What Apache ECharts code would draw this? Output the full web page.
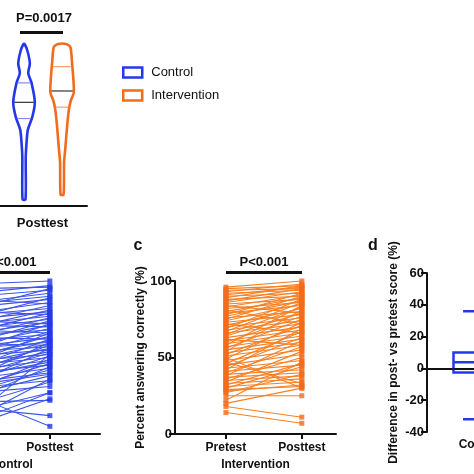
<!DOCTYPE html>
<html>
<head>
<meta charset="utf-8">
<script src="https://cdn.jsdelivr.net/npm/echarts@6.0.0/dist/echarts.min.js"></script>
<style>
  html, body { margin: 0; padding: 0; background: #fff; }
  #chart { width: 474px; height: 474px; }
</style>
</head>
<body>
<div id="chart"></div>
<script>
// groups and colours
const groups = ['Control', 'Intervention']
const testLabels = ['Pretest', 'Posttest']
const BLUE = '#2438e8'
const ORANGE = '#f26c1c'
const FONT = 'Liberation Sans, Arial, sans-serif'

// violin (posttest score, %) : value levels and kernel density at each level
const violinX = [1.17, 2.88]
const controlViolinValues = [100, 96, 88, 82, 76, 64, 55, 47, 39, 30, 4]
const controlViolinDensity = [0.5, 3.3, 5.8, 4.2, 7.5, 10.8, 8.3, 3.8, 2.5, 1.7, 1.5]
const controlQuartiles = [54, 64, 76]
const interventionViolinValues = [100, 98, 88, 78, 70, 65, 59, 49, 36, 27, 7]
const interventionViolinDensity = [4, 8.3, 10, 11.3, 11.7, 8.7, 6.7, 5, 3.3, 2, 1.5]
const interventionQuartiles = [61, 71, 86]

// paired scores, control group
const controlPre = [98, 95, 92, 90, 88, 86, 85, 83, 82, 80, 79, 78, 76, 75, 74, 73, 72, 71, 70, 69,
  68, 67, 66, 65, 64, 63, 62, 61, 60, 59, 58, 57, 56, 55, 54, 53, 52, 51, 50, 49,
  48, 47, 46, 45, 44, 43, 42, 41, 40, 39, 38, 37, 36, 35, 34, 33, 32, 31, 30, 29,
  28, 27, 26, 25, 23, 21, 19, 17, 15, 12, 10, 8, 6]
const controlPost = [100, 96, 97, 94, 85, 92, 90, 88, 95, 78, 86, 82, 89, 80, 72, 84, 77, 70, 81, 75,
  66, 79, 73, 68, 76, 62, 71, 65, 74, 58, 69, 63, 60, 72, 57, 67, 61, 55, 64, 59,
  52, 66, 56, 50, 62, 54, 48, 58, 45, 53, 47, 60, 43, 51, 40, 56, 39, 46, 35, 49,
  42, 31, 38, 5, 44, 22, 34, 12, 27, 52, 36, 27, 23]

// paired scores, intervention group
const interventionPre = [96, 95, 94, 93, 92, 91, 90, 89, 88, 87, 86, 85, 84, 83, 82, 81, 80, 79, 78, 77,
  76, 75, 74, 73, 72, 71, 70, 69, 68, 67, 66, 65, 64, 63, 62, 61, 60, 59, 58, 57,
  56, 55, 54, 53, 52, 51, 50, 49, 48, 47, 46, 45, 44, 43, 42, 41, 40, 39, 38, 37,
  36, 35, 34, 33, 32, 31, 30, 29, 28, 27, 25, 22, 20, 18, 14]
const interventionPost = [100, 97, 95, 98, 94, 96, 92, 97, 90, 95, 93, 88, 79, 91, 86, 72, 89, 84, 92, 87,
  80, 90, 85, 78, 66, 82, 76, 88, 74, 86, 72, 83, 79, 70, 58, 68, 77, 66, 84, 64,
  75, 62, 81, 60, 71, 58, 30, 73, 55, 33, 67, 52, 63, 48, 69, 45, 57, 42, 61, 40,
  50, 38, 54, 36, 46, 34, 44, 31, 32, 39, 25, 47, 30, 11, 7]

// difference post - pre (%), control: min, Q1, median, Q3, max
const diffCategories = ['Control', 'Intervention']
const diffControlBox = [-32, -2.5, 3.8, 10, 36]

const VIOLIN_SCALE = 1

function violinSeries (name, idx, values, density, quartiles, color, quartColor) {
  return {
    type: 'custom',
    name: name,
    xAxisIndex: 0,
    yAxisIndex: 0,
    data: [[violinX[idx]]],
    renderItem: (params, api) => {
      const x = api.value(0)
      const right = values.map((v, i) => {
        const p = api.coord([x, v])
        return [p[0] + density[i] * VIOLIN_SCALE, p[1]]
      })
      const left = values.map((v, i) => {
        const p = api.coord([x, v])
        return [p[0] - density[i] * VIOLIN_SCALE, p[1]]
      }).reverse()
      const widthAt = (q) => {
        for (let i = 0; i < values.length - 1; i++) {
          if (q <= values[i] && q >= values[i + 1]) {
            const t = (values[i] - q) / (values[i] - values[i + 1])
            return density[i] + t * (density[i + 1] - density[i])
          }
        }
        return 0
      }
      const qLines = quartiles.map((q, i) => {
        const p = api.coord([x, q])
        const w = widthAt(q) * VIOLIN_SCALE - 1
        return {
          type: 'line',
          shape: { x1: p[0] - w, y1: p[1], x2: p[0] + w, y2: p[1] },
          style: { stroke: i === 1 ? '#333' : quartColor, lineWidth: 1.2 }
        }
      })
      return {
        type: 'group',
        children: [{
          type: 'polygon',
          shape: { points: right.concat(left), smooth: 0.25 },
          style: { fill: 'none', stroke: color, lineWidth: 2.6 }
        }].concat(qLines)
      }
    }
  }
}

function pairLines (pre, post, xi, yi, color) {
  return {
    type: 'custom',
    xAxisIndex: xi,
    yAxisIndex: yi,
    silent: true,
    data: pre.map((v, i) => [v, post[i]]),
    renderItem: (params, api) => {
      const a = api.coord([1, api.value(0)])
      const b = api.coord([2, api.value(1)])
      return {
        type: 'line',
        shape: { x1: a[0], y1: a[1], x2: b[0], y2: b[1] },
        style: { stroke: color, lineWidth: 1.1 }
      }
    }
  }
}

function pairPoints (pre, post, xi, yi, color) {
  return {
    type: 'scatter',
    xAxisIndex: xi,
    yAxisIndex: yi,
    symbol: 'rect',
    symbolSize: 5,
    silent: true,
    itemStyle: { color: color },
    data: pre.map(v => [1, v]).concat(post.map(v => [2, v]))
  }
}

const axisText = { color: '#111', fontFamily: FONT, fontWeight: 'bold', fontSize: 13 }
const blackLine = { lineStyle: { color: '#111', width: 2 } }

function pairXAxis (gridIndex, max, name) {
  return {
    type: 'value', gridIndex: gridIndex, min: 0.33, max: max,
    axisLine: blackLine,
    axisTick: { show: true, customValues: [1, 2], length: 5, lineStyle: { color: '#111', width: 2 } },
    axisLabel: Object.assign({ customValues: [1, 2], margin: 8, formatter: v => testLabels[Math.round(v) - 1] || '' }, axisText, { fontSize: 12 }),
    splitLine: { show: false },
    name: name, nameLocation: 'middle', nameGap: 25,
    nameTextStyle: Object.assign({}, axisText, { fontSize: 12 })
  }
}

function pairYAxis (gridIndex) {
  return {
    type: 'value', gridIndex: gridIndex, min: 0, max: 100, interval: 50,
    axisLine: { show: true, lineStyle: { color: '#111', width: 2 } },
    axisTick: { show: true, length: 6, lineStyle: { color: '#111', width: 2 } },
    axisLabel: Object.assign({ margin: 3 }, axisText),
    splitLine: { show: false },
    name: 'Percent answering correctly (%)', nameLocation: 'middle', nameGap: 28,
    nameTextStyle: Object.assign({}, axisText, { fontSize: 12 })
  }
}

const chart = echarts.init(document.getElementById('chart'))

const option = {
  animation: false,
  backgroundColor: '#fff',
  textStyle: { fontFamily: FONT },
  grid: [
    { left: -2, top: 44, width: 89, height: 162, outerBoundsMode: 'none', containLabel: false },
    { left: -77, top: 281, width: 177, height: 153, outerBoundsMode: 'none', containLabel: false },
    { left: 175, top: 281, width: 161, height: 153, outerBoundsMode: 'none', containLabel: false },
    { left: 427, top: 273, width: 212, height: 159, outerBoundsMode: 'none', containLabel: false }
  ],
  xAxis: [
    {
      type: 'value', gridIndex: 0, min: 0, max: 4,
      axisLine: blackLine, axisTick: { show: false }, axisLabel: { show: false }, splitLine: { show: false },
      name: 'Posttest', nameLocation: 'middle', nameGap: 11, nameTextStyle: axisText
    },
    pairXAxis(1, 2.66, 'Control'),
    pairXAxis(2, 2.45, 'Intervention'),
    {
      type: 'category', gridIndex: 3, data: diffCategories,
      axisLine: blackLine, axisTick: { show: false },
      axisLabel: Object.assign({ margin: 7 }, axisText, { fontSize: 12 }),
      splitLine: { show: false }
    }
  ],
  yAxis: [
    { type: 'value', gridIndex: 0, min: 0, max: 100, show: false, splitLine: { show: false } },
    pairYAxis(1),
    pairYAxis(2),
    {
      type: 'value', gridIndex: 3, min: -40, max: 60, interval: 20,
      axisLine: { show: true, lineStyle: { color: '#111', width: 2 } },
      axisTick: { show: true, length: 6, lineStyle: { color: '#111', width: 2 } },
      axisLabel: Object.assign({ margin: 3 }, axisText),
      splitLine: { show: false },
      name: 'Difference in post- vs pretest score (%)', nameLocation: 'middle', nameGap: 27,
      nameTextStyle: Object.assign({}, axisText, { fontSize: 12 })
    }
  ],
  legend: {
    orient: 'vertical', left: 117, top: 61,
    itemWidth: 19, itemHeight: 10, itemGap: 10,
    selectedMode: false,
    textStyle: { fontSize: 13, color: '#111', fontFamily: FONT, padding: [0, 0, 0, 4] },
    data: [
      { name: 'Control', icon: 'rect', itemStyle: { color: '#fff', borderColor: BLUE, borderWidth: 2.5 } },
      { name: 'Intervention', icon: 'rect', itemStyle: { color: '#fff', borderColor: ORANGE, borderWidth: 2.5 } }
    ]
  },
  series: [
    violinSeries('Control', 0, controlViolinValues, controlViolinDensity, controlQuartiles, BLUE, '#7f8cf2'),
    violinSeries('Intervention', 1, interventionViolinValues, interventionViolinDensity, interventionQuartiles, ORANGE, '#f5a070'),
    pairLines(controlPre, controlPost, 1, 1, '#3d55e8'),
    pairPoints(controlPre, controlPost, 1, 1, BLUE),
    pairLines(interventionPre, interventionPost, 2, 2, '#f58025'),
    pairPoints(interventionPre, interventionPost, 2, 2, ORANGE),
    {
      type: 'custom',
      xAxisIndex: 3,
      yAxisIndex: 3,
      data: [[0].concat(diffControlBox)],
      renderItem: (params, api) => {
        const x = api.value(0)
        const band = api.size([1, 0])[0]
        const bw = band * 0.25
        const cw = band * 0.16
        const c = (v) => api.coord([x, v])
        const lo = c(api.value(1)), q1 = c(api.value(2)), med = c(api.value(3)), q3 = c(api.value(4)), hi = c(api.value(5))
        const st = { stroke: BLUE, lineWidth: 2.5, fill: 'none' }
        return {
          type: 'group',
          children: [
            { type: 'rect', shape: { x: q3[0] - bw, y: q3[1], width: bw * 2, height: q1[1] - q3[1] }, style: st },
            { type: 'line', shape: { x1: med[0] - bw, y1: med[1], x2: med[0] + bw, y2: med[1] }, style: st },
            { type: 'line', shape: { x1: hi[0], y1: hi[1], x2: q3[0], y2: q3[1] }, style: st },
            { type: 'line', shape: { x1: lo[0], y1: lo[1], x2: q1[0], y2: q1[1] }, style: st },
            { type: 'line', shape: { x1: hi[0] - cw, y1: hi[1], x2: hi[0] + cw, y2: hi[1] }, style: st },
            { type: 'line', shape: { x1: lo[0] - cw, y1: lo[1], x2: lo[0] + cw, y2: lo[1] }, style: st }
          ]
        }
      },
      markLine: {
        silent: true,
        symbol: 'none',
        label: { show: false },
        lineStyle: { color: '#111', width: 1.5, type: [3, 2] },
        data: [{ yAxis: 0 }]
      }
    }
  ],
  graphic: [
    { type: 'text', x: 44, y: 18, style: { text: 'P=0.0017', align: 'center', verticalAlign: 'middle', font: 'bold 13px ' + FONT, fill: '#111' } },
    { type: 'rect', shape: { x: 20, y: 31, width: 43, height: 3 }, style: { fill: '#111' } },
    { type: 'text', x: 12, y: 262, style: { text: 'P<0.001', align: 'center', verticalAlign: 'middle', font: 'bold 13px ' + FONT, fill: '#111' } },
    { type: 'rect', shape: { x: -26, y: 271, width: 76, height: 3 }, style: { fill: '#111' } },
    { type: 'text', x: 264, y: 262, style: { text: 'P<0.001', align: 'center', verticalAlign: 'middle', font: 'bold 13px ' + FONT, fill: '#111' } },
    { type: 'rect', shape: { x: 226, y: 271, width: 76, height: 3 }, style: { fill: '#111' } },
    { type: 'text', x: 138, y: 246, style: { text: 'c', align: 'center', verticalAlign: 'middle', font: 'bold 16px ' + FONT, fill: '#111' } },
    { type: 'text', x: 373, y: 246, style: { text: 'd', align: 'center', verticalAlign: 'middle', font: 'bold 16px ' + FONT, fill: '#111' } }
  ]
}

chart.setOption(option)
</script>
</body>
</html>
